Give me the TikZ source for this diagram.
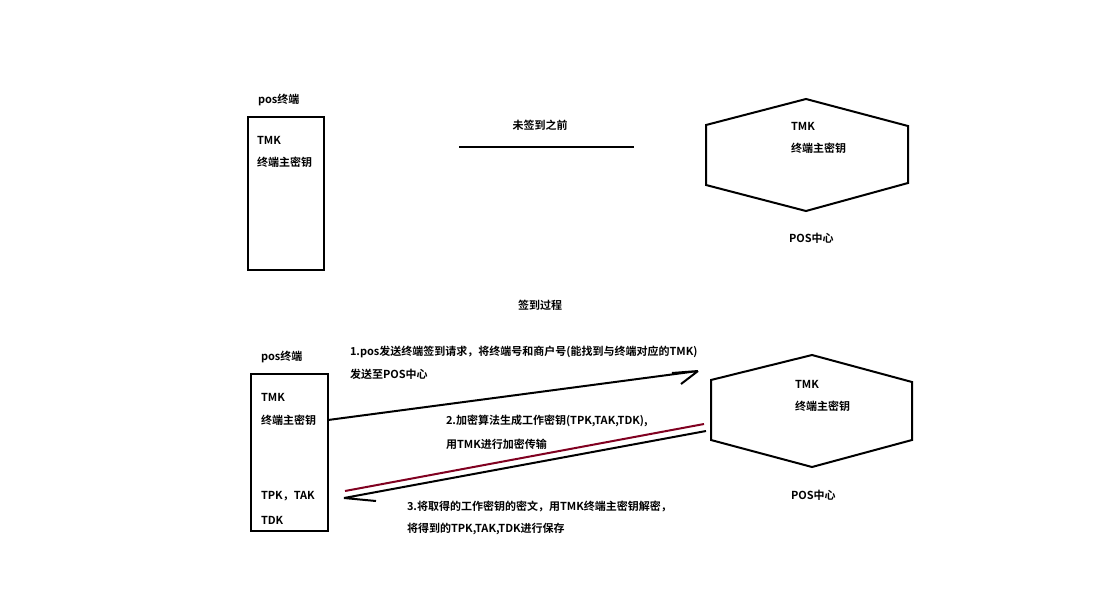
\documentclass[tikz,border=0pt]{standalone}
\usepackage{fontspec}
\setmainfont{Noto Sans CJK SC Bold}
\begin{document}
\begin{tikzpicture}[x=1pt,y=-1pt,line width=2pt,
  t/.style={anchor=west,inner sep=0pt,font=\fontsize{11}{13}\selectfont},
  tc/.style={inner sep=0pt,font=\fontsize{11}{13}\selectfont}]
\useasboundingbox (0,0) rectangle (1103,592);
\node[draw,minimum width=76,minimum height=153,inner sep=0pt] (b1) at (286,193.5) {};
\node[draw,minimum width=77,minimum height=157,inner sep=0pt] (b2) at (289.5,452.5) {};
\draw (706,125)--(806,99)--(908,126)--(908,183)--(806,211)--(706,185)--cycle;
\draw (711,380)--(812,355)--(912,382)--(912,440)--(812,467)--(711,440)--cycle;
\coordinate (l1) at (459,147); \coordinate (l2) at (634,147);
\draw (l1)--(l2);
\node[t] (n1) at (257,100) {pos终端};
\node[t] (n2) at (256,140) {TMK};
\node[t] (n3) at (256,162) {终端主密钥};
\node[tc] (n4) at (540,125) {未签到之前};
\node[t] (n5) at (790,126) {TMK};
\node[t] (n6) at (790,148) {终端主密钥};
\node[t] (n7) at (788,238) {POS中心};
\node[tc] (n8) at (540,305) {签到过程};
\node[t] (m1) at (260,357) {pos终端};
\node[t] (m2) at (260,397) {TMK};
\node[t] (m3) at (260,420) {终端主密钥};
\node[t] (m4) at (260,496) {TPK，TAK};
\node[t] (m5) at (260,520) {TDK};
\node[t] (m6) at (794,384) {TMK};
\node[t] (m7) at (794,406) {终端主密钥};
\node[t] (m8) at (790,495) {POS中心};
\node[t] (a1) at (349,352) {1.pos发送终端签到请求，将终端号和商户号(能找到与终端对应的TMK)};
\node[t] (a2) at (349,374) {发送至POS中心};
\node[t] (c1) at (445,421) {2.加密算法生成工作密钥(TPK,TAK,TDK),};
\node[t] (c2) at (445,444) {用TMK进行加密传输};
\node[t] (d1) at (406,506) {3.将取得的工作密钥的密文，用TMK终端主密钥解密，};
\node[t] (d2) at (406,529) {将得到的TPK,TAK,TDK进行保存};
\coordinate (p1) at (328,420); \coordinate (p2) at (698,371);
\draw (p1)--(p2) (p2)--(681,384) (p2)--(672,373);
\coordinate (q1) at (704,424); \coordinate (q2) at (345,491);
\draw[color={rgb,255:red,128;green,0;blue,32}] (q1)--(q2);
\coordinate (r1) at (706,431); \coordinate (r2) at (344,498);
\draw (r1)--(r2) (r2)--(376,501);
\end{tikzpicture}
\end{document}
